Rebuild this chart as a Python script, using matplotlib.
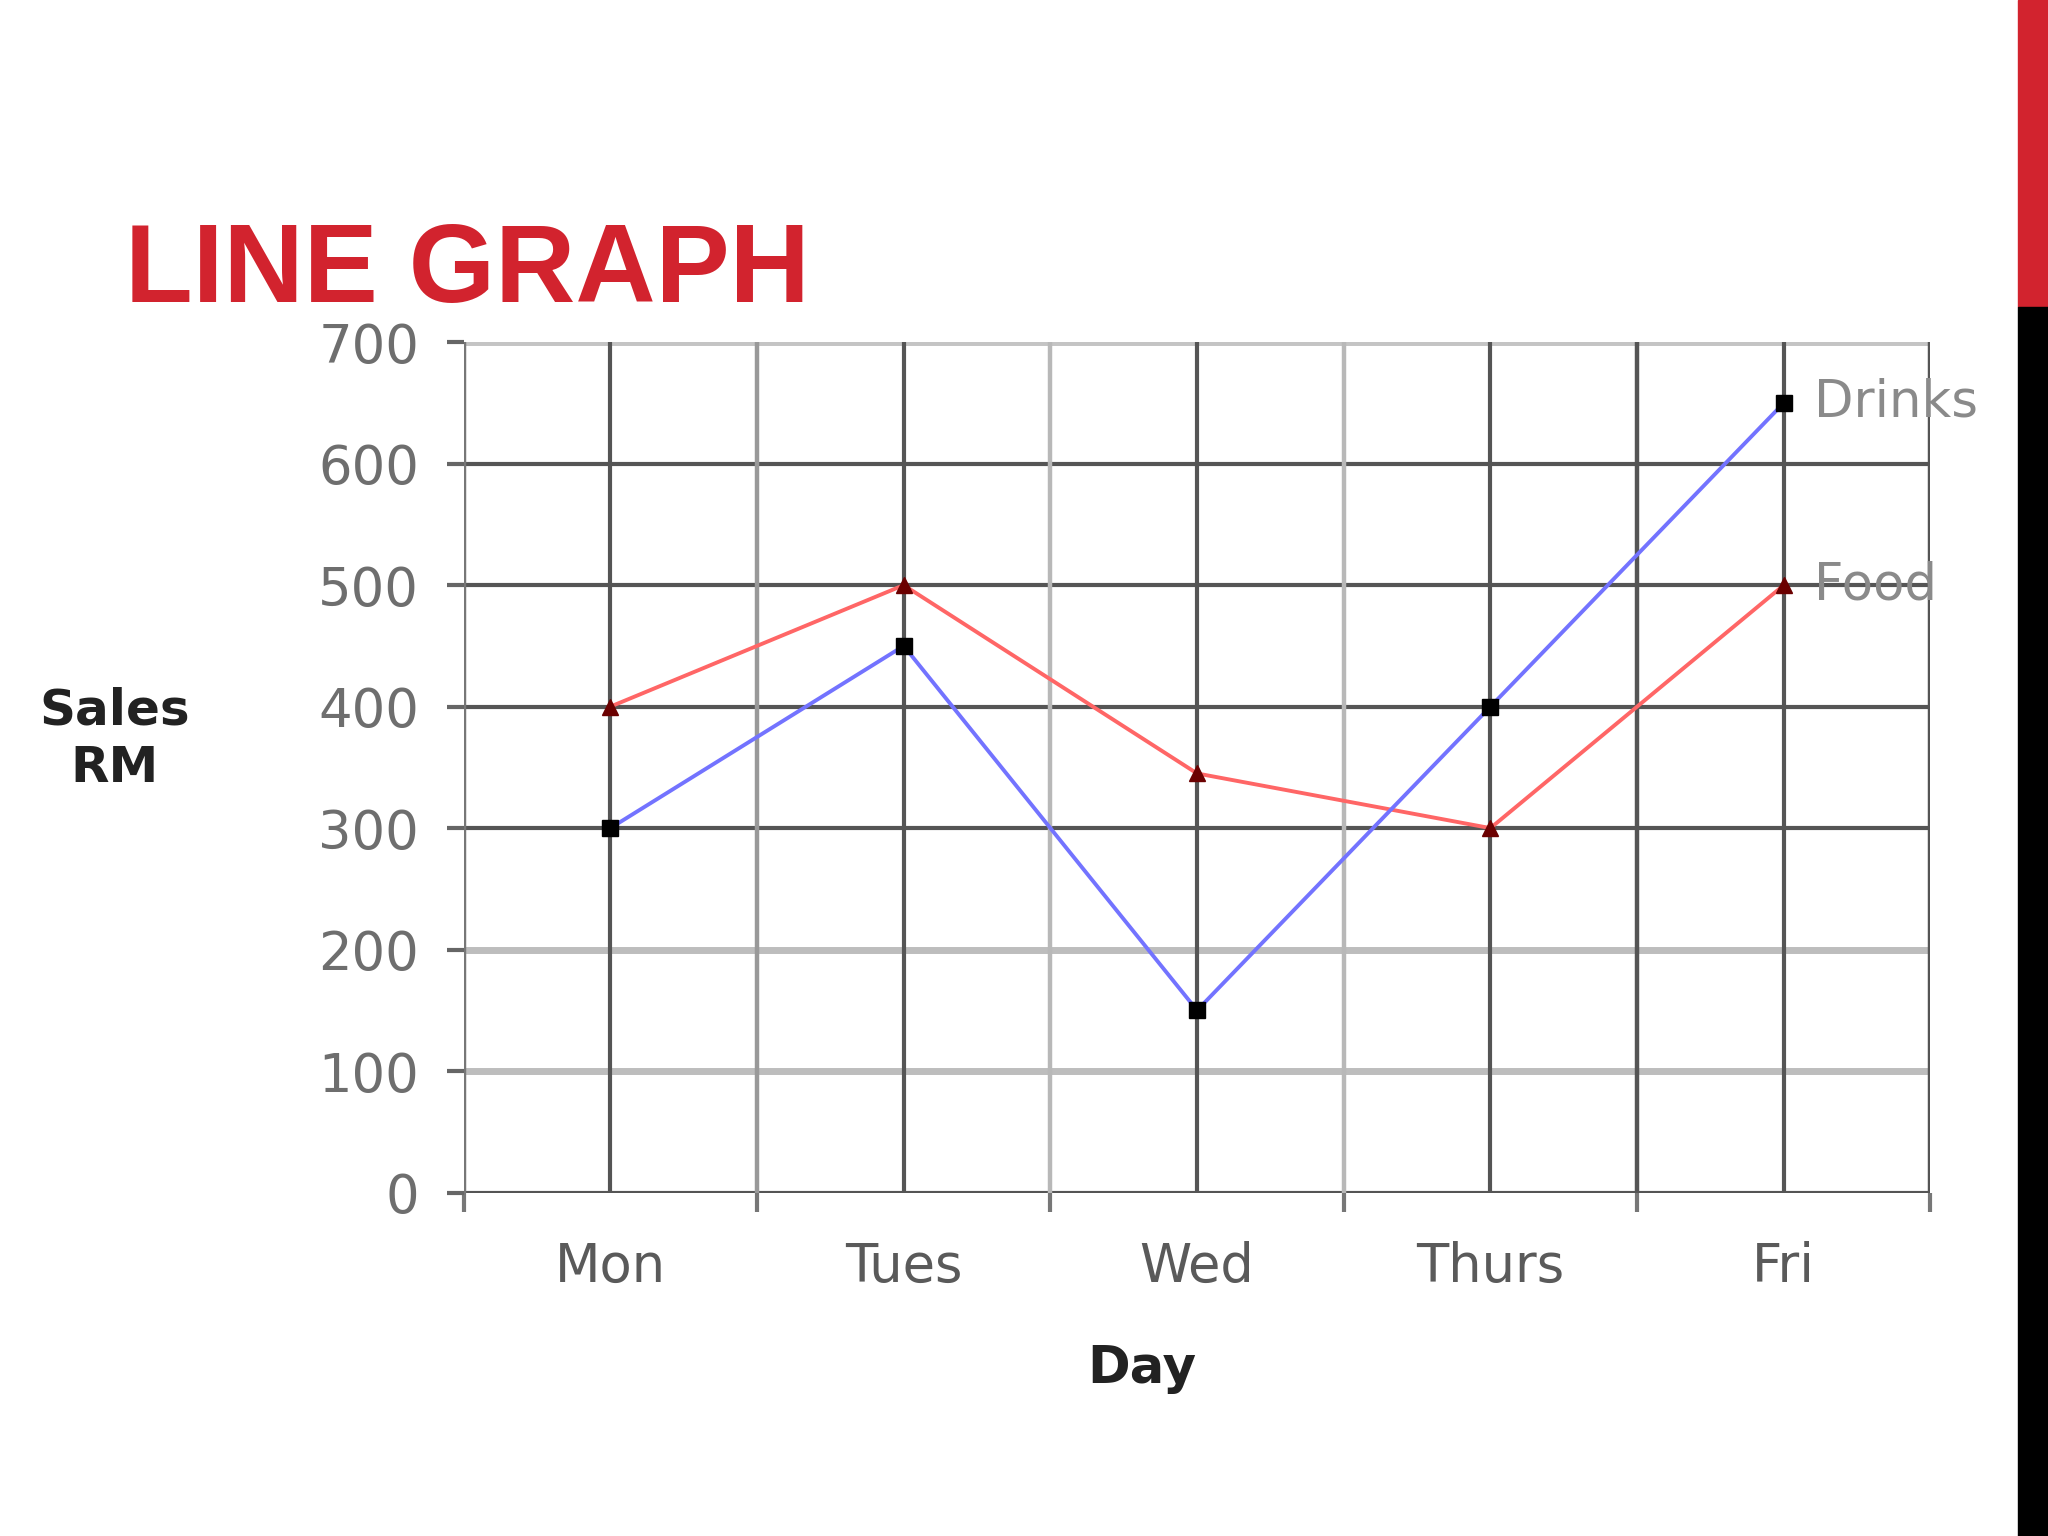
import numpy as np
import matplotlib.pyplot as plt
from matplotlib.patches import Rectangle

# data
days = ["Mon", "Tues", "Wed", "Thurs", "Fri"]
drinks = [300, 450, 150, 400, 650]
food = [400, 500, 345, 300, 500]
y_ticks = [0, 100, 200, 300, 400, 500, 600, 700]

# grid look (scanned image: some lines dark, some light)
hgrid_colors = ["#555555", "#bdbdbd", "#bdbdbd", "#555555", "#555555", "#555555", "#555555", "#c4c4c4"]
hgrid_widths = [3.0, 5.0, 5.0, 3.0, 3.0, 3.0, 3.0, 5.0]
bound_colors = ["#777777", "#999999", "#b8b8b8", "#b8b8b8", "#555555", "#555555"]

fig = plt.figure(figsize=(20.48, 15.36), dpi=100)
ax = fig.add_axes([0.2264, 0.2236, 0.7162, 0.5536])

x = np.arange(len(days))
for yv, c, w in zip(y_ticks, hgrid_colors, hgrid_widths):
    ax.axhline(yv, color=c, lw=w, zorder=1)
for i, c in enumerate(bound_colors):
    ax.axvline(i - 0.5, color=c, lw=3.2, zorder=1)
for xi in x:
    ax.axvline(xi, color="#555555", lw=3.0, zorder=1)

ax.plot(x, food, color="#ff6666", lw=2.8, zorder=3)
ax.plot(x, food, ls="none", marker="^", ms=12, color="#6b0000", zorder=4)
ax.plot(x, drinks, color="#7373ff", lw=2.8, zorder=3)
ax.plot(x, drinks, ls="none", marker="s", ms=11, color="black", zorder=4)

ax.annotate("Drinks", (x[-1], drinks[-1]), xytext=(22, 0), textcoords="offset points",
            va="center", ha="left", fontsize=37, color="#8a8a8a")
ax.annotate("Food", (x[-1], food[-1]), xytext=(22, 0), textcoords="offset points",
            va="center", ha="left", fontsize=37, color="#8a8a8a")

ax.set_xlim(-0.5, len(days) - 0.5)
ax.set_ylim(0, 700)
ax.set_yticks(y_ticks)
ax.set_xticks(x)
ax.set_xticklabels(days)
ax.set_xticks(np.arange(len(days) + 1) - 0.5, minor=True)
ax.tick_params(axis="y", length=12, width=3, color="#666666", pad=20,
               labelsize=38, labelcolor="#6e6e6e")
ax.tick_params(axis="x", which="major", length=0, pad=35, labelsize=38, labelcolor="#5a5a5a")
ax.tick_params(axis="x", which="minor", length=14, width=3, color="#777777")
for s in ax.spines.values():
    s.set_visible(False)
ax.set_facecolor("white")
ax.set_clip_on(False)

fig.text(0.5574, 0.1088, "Day", ha="center", va="center", fontsize=37,
         fontweight="bold", color="#222222")
fig.text(0.0561, 0.5187, "Sales\nRM", ha="center", va="center", fontsize=36,
         fontweight="bold", color="#222222", linespacing=1.25)

# slide title and side bar
fig.text(0.0612, 0.8035, "LINE GRAPH", ha="left", va="baseline", fontsize=80,
         fontweight="bold", family="Liberation Sans", color="#d2232e")
fig.patches.append(Rectangle((0.9853, 0.800), 0.0147, 0.200, transform=fig.transFigure,
                             color="#d2232e", zorder=0))
fig.patches.append(Rectangle((0.9853, 0.0), 0.0147, 0.800, transform=fig.transFigure,
                             color="black", zorder=0))

fig.savefig("out.png", dpi=100)
